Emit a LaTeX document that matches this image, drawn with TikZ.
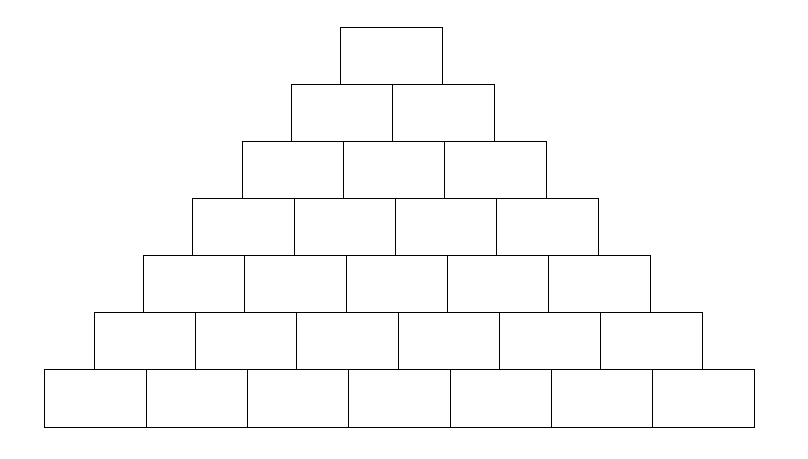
\documentclass[tikz,border=0pt]{standalone}
\begin{document}
\begin{tikzpicture}[x=1pt,y=-1pt,
  brick/.style={draw=black,line width=0.9pt,minimum width=101.33pt,minimum height=57.04pt,inner sep=0pt,outer sep=0pt,anchor=north west}]
\useasboundingbox (0,0) rectangle (808,458);
\foreach \r in {1,...,7}{
  \foreach \c in {1,...,\r}{
    \node[brick] (b-\r-\c) at ({44.7+(7-\r)*49.33+(\c-1)*101.33},{27.7+(\r-1)*57.04}) {};
  }
}
\end{tikzpicture}
\end{document}
